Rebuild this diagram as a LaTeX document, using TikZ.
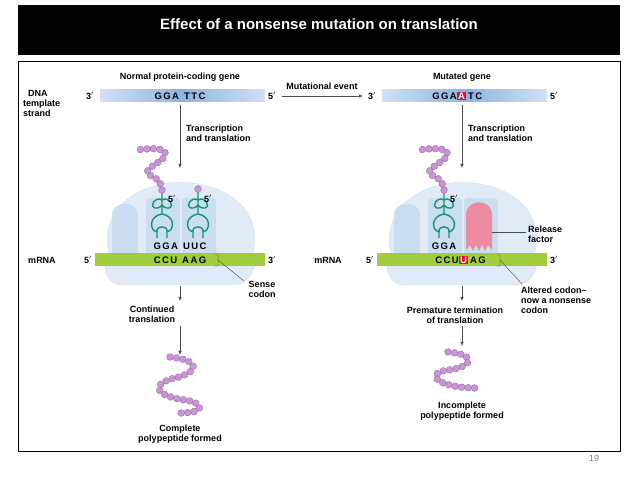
\documentclass[tikz,border=0pt]{standalone}
\usepackage{fontspec}
\setmainfont{Liberation Sans}
\usetikzlibrary{decorations.markings,shadings,arrows.meta}
\definecolor{dnab}{RGB}{140,180,225}
\definecolor{rib}{RGB}{225,235,248}
\definecolor{ribin}{RGB}{190,212,238}
\definecolor{mrna}{RGB}{160,205,60}
\definecolor{trna}{RGB}{20,150,110}
\definecolor{bead}{RGB}{200,150,210}
\definecolor{beadd}{RGB}{150,90,165}
\definecolor{mut}{RGB}{215,20,50}
\definecolor{rf}{RGB}{235,140,160}
\tikzset{
 lbl/.style={font=\bfseries\fontsize{9}{10}\selectfont,align=center,inner sep=1pt},
 lbll/.style={lbl,align=left},
 seq/.style={font=\bfseries\fontsize{9.5}{10}\selectfont,inner sep=0pt},
 arr/.style={-{Latex[length=4pt,width=3.5pt]},gray!60!black,line width=0.6pt},
 beads/.style={decoration={markings,mark=between positions 0 and 1 step 6.5pt with {\fill[bead,draw=beadd,line width=0.3pt] (0,0) circle (3.4pt);}},decorate},
 trnap/.pic={\draw[trna,line width=1.4pt] (0,0) -- (0,22) (0,8) .. controls (-7,4) and (-13,14) .. (-7,16) .. controls (-3,16) .. (0,13)
  (0,8) .. controls (7,4) and (13,14) .. (7,16) .. controls (3,16) .. (0,13)
  (0,22) .. controls (-13,24) and (-13,38) .. (-5,40) -- (-5,46)
  (0,22) .. controls (13,24) and (13,38) .. (5,40) -- (5,46)
  (-5,40) .. controls (-6,33) and (6,33) .. (5,40);}
}
\newcommand{\sq}[1]{\hbox{\addfontfeatures{LetterSpace=15}#1}}
\newcommand{\gp}{\hspace{5pt}}
\begin{document}
\begin{tikzpicture}[x=1pt,y=-1pt]
\useasboundingbox (0,0) rectangle (638,478);
\fill[white] (0,0) rectangle (638,478);
\node[fill=black,minimum width=602pt,minimum height=50pt,anchor=north west,inner sep=0pt] (title) at (18,5) {};
\node[text=white,font=\bfseries\fontsize{15}{17}\selectfont] (tt) at (319,24) {Effect of a nonsense mutation on translation};
\draw[line width=1pt] (18,62) rectangle (620,452);
\node[text=gray,font=\fontsize{9}{10}\selectfont] (pg) at (594,458) {19};

\node[lbll,anchor=north west] (dnal) at (22,89) {\ \ DNA\\template\\strand};
\node[lbl] (mrnal) at (42,260) {mRNA};
\node[lbl] (mrnar) at (328,260) {mRNA};

\foreach \dx/\nm in {0/L,282/R}{
\begin{scope}[xshift=\dx]
 \shade[left color=dnab!40,right color=dnab!40,middle color=dnab] (100,90) rectangle (265,102);
 \node[lbl] (t3\nm) at (90,96) {3$'$};
 \node[lbl] (t5\nm) at (272,96) {5$'$};
 \fill[rib,draw=ribin!70] (122,285) .. controls (105,285) and (100,262) .. (110,255) .. controls (100,230) and (115,185) .. (180,182) .. controls (245,185) and (262,225) .. (252,255) .. controls (260,262) and (250,285) .. (235,285) -- cycle;
 \fill[ribin!80] (112,262) -- (112,215) .. controls (112,200) and (138,200) .. (138,215) -- (138,262) -- cycle;
 \fill[ribin!80,rounded corners=3pt] (146,198) rectangle (180,262);
 \fill[ribin!80,rounded corners=3pt] (182,198) rectangle (216,262);
 \fill[mrna] (95,253) rectangle (265,266);
 \node[lbl] (m5\nm) at (88,260) {5$'$};
 \node[lbl] (m3\nm) at (272,260) {3$'$};
 \draw[arr] (180,105) -- (180,168);
 \draw[arr] (180,286) -- (180,301);
 \pic at (162,192) {trnap};
 \draw[beads] (162,190) .. controls (160,172) and (140,178) .. (150,168) .. controls (160,160) and (165,160) .. (165,152) .. controls (160,146) and (140,150) .. (135,150);
 \node[lbl] (p5\nm) at (172,199) {5$'$};
\end{scope}}

% LEFT
\node[lbl] (ng) at (180,77) {Normal protein-coding gene};
\node[seq] (dsL) at (180,96) {\sq{GGA}\gp\sq{TTC}};
\node[lbll,anchor=west] (ttL) at (185,133) {Transcription\\and translation};
\pic at (198,192) {trnap};
\node[lbl] (a5L) at (208,199) {5$'$};
\fill[bead,draw=beadd,line width=0.3pt] (198,189) circle (3.4pt);
\node[seq] (acL) at (180,246) {\sq{GGA}\gp\sq{UUC}};
\node[seq] (cdL) at (180,260) {\sq{CCU}\gp\sq{AAG}};
\draw[gray!60!black] (214,254) -- (218,254) -- (218,266) -- (214,266) (218,260) -- (244,281);
\node[lbl] (sc) at (262,289) {Sense\\codon};
\node[lbl] (ct) at (152,314) {Continued\\translation};
\draw[arr] (180,326) -- (180,355);
\draw[beads] (170,357) .. controls (200,360) and (200,372) .. (175,378) .. controls (150,384) and (155,396) .. (185,400) .. controls (205,403) and (205,413) .. (180,413);
\node[lbl] (cp) at (180,434) {Complete\\polypeptide formed};

\node[lbl] (me) at (322,86) {Mutational event};
\draw[arr] (282,96) -- (363,96);

% RIGHT
\node[lbl] (mg) at (462,77) {Mutated gene};
\node[seq,anchor=east] (dsR1) at (457,96) {\sq{GGA}\gp};
\node[seq,fill=mut,text=white,inner sep=1pt,anchor=west] (dsR2) at (457,96) {A};
\node[seq,anchor=west] (dsR3) at (dsR2.east) {\,\sq{TC}};
\node[lbll,anchor=west] (ttR) at (467,133) {Transcription\\and translation};
\fill[rf] (466,250) -- (466,215) .. controls (466,198) and (492,198) .. (492,215) -- (492,250) -- (488,245) -- (485,251) -- (482,245) -- (479,251) -- (476,245) -- (473,251) -- (470,245) -- cycle;
\node[seq] (acR) at (444,246) {\sq{GGA}};
\node[seq,anchor=east] (cdR1) at (459,260) {\sq{CCU}\gp};
\node[seq,fill=mut,text=white,inner sep=1pt,anchor=west] (cdR2) at (459,260) {U};
\node[seq,anchor=west] (cdR3) at (cdR2.east) {\,\sq{AG}};
\draw[gray!60!black] (496,254) -- (500,254) -- (500,266) -- (496,266) (500,260) -- (522,284);
\draw[gray!60!black] (492,232) -- (526,232);
\node[lbll,anchor=west] (rel) at (527,234) {Release\\factor};
\node[lbll,anchor=west] (alt) at (520,300) {Altered codon--\\now a nonsense\\codon};
\node[lbl] (pt) at (455,315) {Premature termination\\of translation};
\draw[arr] (462,326) -- (462,346);
\draw[beads] (448,352) .. controls (480,355) and (470,368) .. (448,370) .. controls (425,373) and (435,388) .. (478,388);
\node[lbl] (ip) at (462,411) {Incomplete\\polypeptide formed};
\end{tikzpicture}
\end{document}
